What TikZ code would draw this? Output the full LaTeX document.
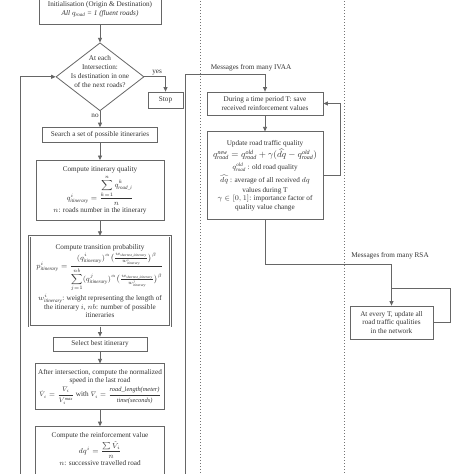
\RequirePackage{fix-cm}
\documentclass[tikz,border=0pt]{standalone}
\usepackage{amsmath}
\usepackage{fontspec}
\setmainfont{Liberation Serif}
\usetikzlibrary{arrows.meta, positioning, shapes.geometric}
% italic sub/superscript words in the text font
\newcommand{\tsub}[1]{\text{\itshape #1}}

\begin{document}
\begin{tikzpicture}[
    x=1pt, y=-1pt,
    box/.style={rectangle, draw=black!60, line width=0.8pt, fill=white, text=black!80, align=center, inner sep=1pt, font=\fontsize{7.2}{8.8}\selectfont},
    decision/.style={diamond, draw=black!60, line width=0.8pt, inner sep=0pt, minimum width=88pt, minimum height=68pt},
    edge/.style={-{Triangle[length=4.5pt, width=4pt]}, line width=0.8pt, draw=black!60},
    plain/.style={line width=0.8pt, draw=black!60},
    divider/.style={dotted, line width=1pt, draw=black!55},
    msg/.style={text=black!80, font=\fontsize{7.2}{9}\selectfont, inner sep=1pt, align=center}
]
    \path[use as bounding box, fill=white] (0,0) rectangle (474,474);

    % Define Nodes (vehicle side)
    \node[box, minimum width=122pt, minimum height=30pt] (init) at (100,9)
        {Initialisation (Origin \& Destination)\\ \textit{All $q_{\tsub{road}}$ = 1 (fluent roads)}};
    \node[decision] (decide) [below=18pt of init] {};
    \node[msg] (asktext) at ([yshift=5pt]decide.center)
        {At each\\Intersection:\\Is destination in one\\of the next roads?};
    \node[box, minimum width=35pt, minimum height=16pt] (stop) at (165.5,100) {Stop};
    \node[box, minimum width=115pt, minimum height=15pt] (search) [below=16pt of decide]
        {Search a set of possible itineraries};
    \node[box, minimum width=128pt, minimum height=60pt] (quality) [below=17pt of search]
        {Compute itinerary quality\\[1pt]
         $q^{i}_{\tsub{itinerary}}=\dfrac{\displaystyle\sum_{k=1}^{n} q^{k}_{\tsub{road\_i}}}{n}$\\[1pt]
         $n$: roads number in the itinerary};
    \node[box, double=white, double distance=0.8pt, minimum width=141pt, minimum height=90pt] (trans) [below=15pt of quality]
        {Compute transition probability\\[1pt]
         $p^{i}_{\tsub{itinerary}}=\dfrac{(q^{i}_{\tsub{itinerary}})^{\alpha}\bigl(\tfrac{w_{\tsub{shortest\_itinerary}}}{w^{i}_{\tsub{itinerary}}}\bigr)^{\beta}\rule[-2pt]{0pt}{2pt}}
          {\displaystyle\sum_{j=1}^{nb}(q^{j}_{\tsub{itinerary}})^{\alpha}\bigl(\tfrac{w_{\tsub{shortest\_itinerary}}}{w^{j}_{\tsub{itinerary}}}\bigr)^{\beta}}$\\[1pt]
         $w^{i}_{\tsub{itinerary}}$: weight representing the length of\\
         the itinerary $i$, $nb$: number of possible\\ itineraries};
    \node[box, minimum width=94pt, minimum height=14pt] (best) [below=10pt of trans] {Select best itinerary};
    \node[box, minimum width=129pt, minimum height=46pt] (speed) [below=12pt of best]
        {After intersection, compute the normalized\\ speed in the last road\\[1pt]
         {\fontsize{6.4}{8}\selectfont $\hat{V}_i=\dfrac{\bar{V}_i}{V_i^{\tsub{max}}}$}
         {\fontsize{7.2}{8}\selectfont with}
         {\fontsize{6.4}{8}\selectfont $\bar{V}_i=\dfrac{\tsub{road\_length(meter)}}{\tsub{time(seconds)}}$}};
    \node[box, minimum width=129pt, minimum height=60pt] (reinf) [below=16pt of speed]
        {Compute the reinforcement value\\[1pt]
         $dq^{i}=\dfrac{\sum \hat{V}_i}{n}$\\[1pt]
         $n$: successive travelled road\\[6pt]\mbox{}};

    % Define Nodes (road side)
    \node[box, minimum width=116pt, minimum height=23pt] (ivaa) at (265,103.5)
        {During a time period T: save\\ received reinforcement values};
    \node[box, minimum width=116pt, minimum height=88pt] (update) [below=16pt of ivaa]
        {Update road traffic quality\\[1pt]
         {\fontsize{9}{11}\selectfont $q^{\tsub{new}}_{\tsub{road}}=q^{\tsub{old}}_{\tsub{road}}+\gamma(\widehat{dq}-q^{\tsub{old}}_{\tsub{road}})$}\\[2pt]
         $q^{\tsub{old}}_{\tsub{road}}$ : old road quality\\[2pt]
         $\widehat{dq}$ : average of all received $dq$\\[1pt]
         values during T\\
         $\gamma\in[0,1]$: importance factor of\\
         quality value change};
    \node[box, minimum width=83pt, minimum height=33pt] (every) at (391.5,322.5)
        {At every T, update all\\ road traffic qualities\\ in the network};

    \node[msg] (ivaamsg) at (251,68) {Messages from many IVAA};
    \node[msg] (rsamsg) at (390,256) {Messages from many RSA};

    % Free ends and separators
    \coordinate (loopL) at (20,480);
    \coordinate (loopR) at (185,480);
    \coordinate (sepAtop) at (200,-2);
    \coordinate (sepAbot) at (200,476);
    \coordinate (sepBtop) at (344,-2);
    \coordinate (sepBbot) at (344,476);
    \draw[divider] (sepAtop) -- (sepAbot);
    \draw[divider] (sepBtop) -- (sepBbot);

    % Draw Edges
    \draw[edge] (init) -- (decide);
    \draw[edge] (decide.east) -| (stop.north) node[pos=0.3, above, msg] {yes};
    \draw[edge] (decide.south) -- (search.north) node[pos=0.3, left, msg] {no};
    \draw[edge] (search) -- (quality);
    \draw[edge] (quality) -- (trans);
    \draw[edge] (trans) -- (best);
    \draw[edge] (best) -- (speed);
    \draw[edge] (speed) -- (reinf);
    \draw[edge] (loopL) |- (decide.west);
    \draw[edge] (loopR) |- ([yshift=17pt]ivaa.north) -- (ivaa.north);
    \draw[edge] (ivaa) -- (update);
    \draw[edge] (update.east) -- ++(17,0) |- (ivaa.east);
    \draw[edge] (update.south) -- ++(0,44) -| (every.north);
    \draw[plain] (every.east) -- ++(17,0) |- ([yshift=17pt]every.north);
\end{tikzpicture}
\end{document}
